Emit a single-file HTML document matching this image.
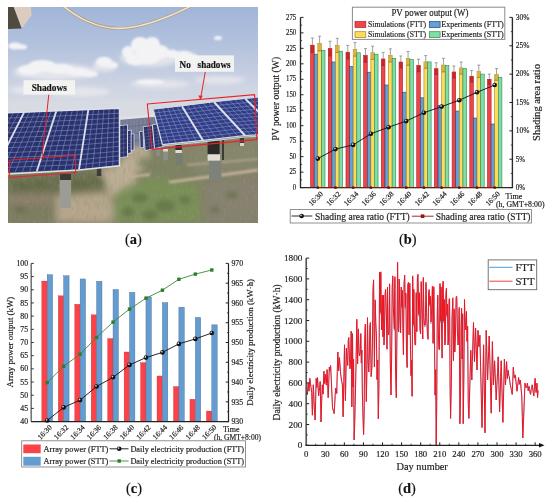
<!DOCTYPE html>
<html><head><meta charset="utf-8"><style>
html,body{margin:0;padding:0;background:#fff;}
body{width:550px;height:501px;overflow:hidden;}
svg{display:block;font-family:"Liberation Serif","Times New Roman",serif;}
text{stroke:#1e1e1e;stroke-width:0.18px;}
</style></head><body>
<svg width="550" height="501" viewBox="0 0 550 501">
<rect width="550" height="501" fill="#fff"/>
<defs><clipPath id="pc"><rect x="8" y="7" width="250" height="216"/></clipPath><linearGradient id="sky" x1="0" y1="7" x2="0" y2="130" gradientUnits="userSpaceOnUse"><stop offset="0" stop-color="#a1b5d9"/><stop offset="0.3" stop-color="#b2c2dd"/><stop offset="0.5" stop-color="#c2cce0"/><stop offset="0.68" stop-color="#d0d6e3"/><stop offset="0.85" stop-color="#d4d7e0"/><stop offset="1" stop-color="#d6d7dc"/></linearGradient><linearGradient id="gnd" x1="0" y1="140" x2="0" y2="223" gradientUnits="userSpaceOnUse"><stop offset="0" stop-color="#8f8e72"/><stop offset="0.5" stop-color="#85855f"/><stop offset="1" stop-color="#7d7a5c"/></linearGradient><filter id="bl2" x="-30%" y="-30%" width="160%" height="160%"><feGaussianBlur stdDeviation="2.2"/></filter><filter id="bl4" x="-30%" y="-30%" width="160%" height="160%"><feGaussianBlur stdDeviation="3.5"/></filter><filter id="bl1" x="-30%" y="-30%" width="160%" height="160%"><feGaussianBlur stdDeviation="1.2"/></filter><filter id="bl05"><feGaussianBlur stdDeviation="0.5"/></filter><filter id="grass" x="0" y="0" width="100%" height="100%"><feTurbulence type="fractalNoise" baseFrequency="0.35 0.12" numOctaves="2" seed="4"/><feColorMatrix type="matrix" values="0 0 0 0 0.25  0 0 0 0 0.28  0 0 0 0 0.15  0 0 0 1.6 -0.75"/></filter><filter id="grass2" x="0" y="0" width="100%" height="100%"><feTurbulence type="fractalNoise" baseFrequency="0.5 0.2" numOctaves="2" seed="9"/><feColorMatrix type="matrix" values="0 0 0 0 0.85  0 0 0 0 0.82  0 0 0 0 0.70  0 0 0 1.4 -0.8"/></filter><clipPath id="gclip"><polygon points="8,172 118,158 150,148 258,136 258,223 8,223"/></clipPath></defs>
<g clip-path="url(#pc)">
<rect x="8" y="7" width="250" height="216" fill="url(#sky)"/>
<g filter="url(#bl2)" fill="#e9e8ee" opacity="0.85">
<ellipse cx="55" cy="72" rx="42" ry="8"/>
<ellipse cx="150" cy="58" rx="30" ry="9"/>
<ellipse cx="175" cy="57" rx="22" ry="5"/>
<ellipse cx="105" cy="66" rx="12" ry="6"/>
<ellipse cx="160" cy="84" rx="30" ry="4"/>
<ellipse cx="80" cy="92" rx="30" ry="5"/>
<ellipse cx="220" cy="80" rx="25" ry="4"/>
<ellipse cx="30" cy="90" rx="20" ry="4"/>
</g>
<g filter="url(#bl1)" fill="#f3f3f6">
<ellipse cx="15" cy="46" rx="7" ry="3.5"/>
<ellipse cx="22" cy="47" rx="5" ry="2.5"/>
<ellipse cx="42" cy="66" rx="14" ry="6"/>
<ellipse cx="30" cy="70" rx="12" ry="5"/>
<ellipse cx="60" cy="69" rx="14" ry="5"/>
<ellipse cx="78" cy="72" rx="12" ry="4"/>
<ellipse cx="90" cy="74" rx="8" ry="3"/>
<ellipse cx="104" cy="62" rx="8" ry="5"/>
<ellipse cx="112" cy="65" rx="6" ry="3"/>
<ellipse cx="128" cy="52" rx="6" ry="6"/>
<ellipse cx="140" cy="45" rx="9" ry="8"/>
<ellipse cx="152" cy="44" rx="8" ry="7"/>
<ellipse cx="160" cy="52" rx="9" ry="7"/>
<ellipse cx="147" cy="57" rx="14" ry="7"/>
<ellipse cx="136" cy="60" rx="10" ry="5"/>
<ellipse cx="172" cy="54" rx="7" ry="4"/>
<ellipse cx="184" cy="55" rx="9" ry="4"/>
<ellipse cx="193" cy="57" rx="5" ry="2.5"/>
<ellipse cx="218" cy="38" rx="4" ry="2"/>
<ellipse cx="150" cy="82" rx="14" ry="2.5"/>
</g>
<rect x="8" y="100" width="250" height="30" fill="#dcdfe4" opacity="0.5" filter="url(#bl2)"/>
<polygon points="8,168 118,156 150,146 258,133 258,223 8,223" fill="#827f66"/>
<polygon points="118,117.5 165,113 165,117 118,121" fill="#e2e2e4" filter="url(#bl05)"/>
<polygon points="118,120 165,116 165,146 140,150 118,152" fill="#737a94" filter="url(#bl05)"/>
<path d="M121 121V150M124 120.5V149M127 120V149M131 120V148M134 119.5V148M137 119.5V148M141 119V147M145 118.5V147M149 118V146" stroke="#9aa0b4" stroke-width="0.6" opacity="0.7"/>
<path d="M118 128L153 124M118 136L153 131M118 143L153 138" stroke="#5e6482" stroke-width="0.8" opacity="0.7"/>
<polygon points="127,148 140,146 150,150 152,170 120,172" fill="#b4a88e" filter="url(#bl2)"/>
<g filter="url(#bl4)">
<polygon points="8,176 100,170 118,168 118,194 60,196 8,194" fill="#6c6e50"/>
<polygon points="8,194 60,194 60,204 8,205" fill="#8e806c"/>
<polygon points="8,205 58,203 58,223 8,223" fill="#7c7c60"/>
<polygon points="56,196 108,192 120,223 56,223" fill="#b6a68c"/>
<polygon points="100,170 125,160 140,158 132,196 110,196" fill="#bcae94"/>
<polygon points="116,192 150,176 198,184 202,223 112,223" fill="#7a8f58"/>
<polygon points="135,160 200,150 205,178 150,178" fill="#7e8264"/>
<polygon points="205,184 258,176 258,223 205,223" fill="#878170"/>
<polygon points="180,150 258,138 258,168 200,176" fill="#85866c"/>
</g>
<g clip-path="url(#gclip)"><rect x="8" y="140" width="250" height="83" filter="url(#grass)" opacity="0.55"/><rect x="8" y="140" width="250" height="83" filter="url(#grass2)" opacity="0.25"/></g>
<g filter="url(#bl2)" fill="#56653e" opacity="0.5">
<ellipse cx="22" cy="186" rx="7" ry="3"/>
<ellipse cx="40" cy="184" rx="6" ry="3"/>
<ellipse cx="80" cy="184" rx="9" ry="3"/>
<ellipse cx="98" cy="182" rx="5" ry="2.5"/>
<ellipse cx="140" cy="198" rx="8" ry="5"/>
<ellipse cx="165" cy="206" rx="10" ry="6"/>
<ellipse cx="150" cy="215" rx="8" ry="5"/>
<ellipse cx="185" cy="200" rx="6" ry="4"/>
<ellipse cx="128" cy="212" rx="6" ry="5"/>
<ellipse cx="232" cy="195" rx="6" ry="3"/>
<ellipse cx="215" cy="210" rx="5" ry="3"/>
<ellipse cx="20" cy="210" rx="6" ry="3"/>
</g>
<polygon points="168,181 258,168.5 258,171.5 170,183.5" fill="#c2b298" filter="url(#bl1)"/>
<polygon points="185,164 258,158 258,160 188,166" fill="#aca088" filter="url(#bl1)"/>
<polygon points="128,176 150,173 150,176 130,178" fill="#c2b094" filter="url(#bl1)"/>
<rect x="59.6" y="176" width="11.5" height="32" fill="#9c9c94" filter="url(#bl05)"/>
<rect x="60" y="174" width="11" height="6" fill="#3a3a36"/>
<rect x="96.8" y="168" width="4.5" height="8" fill="#3c3c38"/>
<polygon points="119.2,125.2 127.8,124.4 127.8,157.1 119.2,158.1" fill="#d8dae2"/>
<polygon points="120,126 127,125.2 127,156.3 120,157.3" fill="#2a336c"/>
<path d="M123.5 125.6L123.5 156.8M120 130.47L127 129.64M120 134.94L127 134.09M120 139.41L127 138.53M120 143.89L127 142.97M120 148.36L127 147.41M120 152.83L127 151.86" stroke="#8a92b4" stroke-width="0.45" opacity="0.7" fill="none"/>
<polygon points="127.2,130.2 131.6,129.8 131.6,153.3 127.2,153.8" fill="#d8dae2"/>
<polygon points="128,131 130.8,130.6 130.8,152.5 128,153" fill="#2a336c"/>
<path d="M128 134.14L130.8 133.73M128 137.29L130.8 136.86M128 140.43L130.8 139.99M128 143.57L130.8 143.11M128 146.71L130.8 146.24M128 149.86L130.8 149.37" stroke="#8a92b4" stroke-width="0.45" opacity="0.7" fill="none"/>
<polygon points="130.8,133.7 134.4,133.5 134.4,150.3 130.8,150.8" fill="#d8dae2"/>
<polygon points="131.6,134.5 133.6,134.3 133.6,149.5 131.6,150" fill="#2a336c"/>
<path d="M131.6 136.71L133.6 136.47M131.6 138.93L133.6 138.64M131.6 141.14L133.6 140.81M131.6 143.36L133.6 142.99M131.6 145.57L133.6 145.16M131.6 147.79L133.6 147.33" stroke="#8a92b4" stroke-width="0.45" opacity="0.7" fill="none"/>
<polygon points="139.2,131.2 143.4,130.7 144,147.8 139.8,148.3" fill="#d8dae2"/>
<polygon points="140,132 142.6,131.5 143.2,147 140.6,147.5" fill="#2a336c"/>
<path d="M140.09 134.21L142.69 133.71M140.17 136.43L142.77 135.93M140.26 138.64L142.86 138.14M140.34 140.86L142.94 140.36M140.43 143.07L143.03 142.57M140.51 145.29L143.11 144.79" stroke="#8a92b4" stroke-width="0.45" opacity="0.7" fill="none"/>
<polygon points="142.8,126.2 152.8,125.2 154.8,149.3 144.8,150.8" fill="#d8dae2"/>
<polygon points="143.6,127 152,126 154,148.5 145.6,150" fill="#2a336c"/>
<path d="M147.8 126.5L149.8 149.25M143.89 130.29L152.29 129.21M144.17 133.57L152.57 132.43M144.46 136.86L152.86 135.64M144.74 140.14L153.14 138.86M145.03 143.43L153.43 142.07M145.31 146.71L153.71 145.29" stroke="#8a92b4" stroke-width="0.45" opacity="0.7" fill="none"/>
<polygon points="152.2,124.2 161.8,123.2 163.8,146.8 154.2,148.8" fill="#d8dae2"/>
<polygon points="153,125 161,124 163,146 155,148" fill="#2a336c"/>
<path d="M157 124.5L159 147M153.29 128.29L161.29 127.14M153.57 131.57L161.57 130.29M153.86 134.86L161.86 133.43M154.14 138.14L162.14 136.57M154.43 141.43L162.43 139.71M154.71 144.71L162.71 142.86" stroke="#8a92b4" stroke-width="0.45" opacity="0.7" fill="none"/>
<rect x="156" y="149" width="4.4" height="7" fill="#888c84"/>
<rect x="163.2" y="148" width="4.7" height="12" fill="#8c8e88"/>
<rect x="163.2" y="149" width="4.7" height="2.5" fill="#e2ded2"/>
<rect x="175.4" y="145" width="6.4" height="5" fill="#2e2e2c"/>
<rect x="175.4" y="150" width="6.4" height="3" fill="#e2ddd0"/>
<rect x="175.8" y="153" width="6" height="12" fill="#767c74"/>
<rect x="207.6" y="141" width="12" height="13.5" fill="#2a2a28"/>
<rect x="207.6" y="154.3" width="12.5" height="6.5" fill="#e2ded2"/>
<rect x="209" y="160.8" width="12.4" height="19.5" fill="#7d837b"/>
<rect x="222" y="140" width="2" height="20" fill="#3a3a38"/>
<rect x="239.8" y="137" width="4.2" height="9" fill="#3a3a38"/>
<rect x="240" y="143" width="4" height="3" fill="#d8d4c8"/>
<polygon points="-8,113.7 24.1,112.4 -6.5,173 -48,176.5" fill="#283270"/>
<path d="M-2.65 113.48L-41.08 175.92M2.7 113.27L-34.17 175.33M8.05 113.05L-27.25 174.75M13.4 112.83L-20.33 174.17M18.75 112.62L-13.42 173.58M-11.33 118.93L21.55 117.45M-14.67 124.17L19 122.5M-18 129.4L16.45 127.55M-21.33 134.63L13.9 132.6M-24.67 139.87L11.35 137.65M-28 145.1L8.8 142.7M-31.33 150.33L6.25 147.75M-34.67 155.57L3.7 152.8M-38 160.8L1.15 157.85M-41.33 166.03L-1.4 162.9M-44.67 171.27L-3.95 167.95" stroke="#9aa0c0" stroke-width="0.6" opacity="0.8" fill="none"/>
<polygon points="24.1,112.4 56.3,111.1 36.8,171.2 -6.5,173" fill="#283270"/>
<path d="M29.47 112.18L0.72 172.7M34.83 111.97L7.93 172.4M40.2 111.75L15.15 172.1M45.57 111.53L22.37 171.8M50.93 111.32L29.58 171.5M21.55 117.45L54.67 116.11M19 122.5L53.05 121.12M16.45 127.55L51.42 126.12M13.9 132.6L49.8 131.13M11.35 137.65L48.17 136.14M8.8 142.7L46.55 141.15M6.25 147.75L44.92 146.16M3.7 152.8L43.3 151.17M1.15 157.85L41.67 156.17M-1.4 162.9L40.05 161.18M-3.95 167.95L38.42 166.19" stroke="#9aa0c0" stroke-width="0.6" opacity="0.8" fill="none"/>
<polygon points="56.3,111.1 88.3,109.8 79,169.5 36.8,171.2" fill="#283270"/>
<path d="M61.63 110.88L43.83 170.92M66.97 110.67L50.87 170.63M72.3 110.45L57.9 170.35M77.63 110.23L64.93 170.07M82.97 110.02L71.97 169.78M54.67 116.11L87.52 114.77M53.05 121.12L86.75 119.75M51.42 126.12L85.97 124.72M49.8 131.13L85.2 129.7M48.17 136.14L84.42 134.68M46.55 141.15L83.65 139.65M44.92 146.16L82.88 144.62M43.3 151.17L82.1 149.6M41.67 156.17L81.33 154.57M40.05 161.18L80.55 159.55M38.42 166.19L79.78 164.53" stroke="#9aa0c0" stroke-width="0.6" opacity="0.8" fill="none"/>
<polygon points="88.3,109.8 119.5,108.5 119.5,165.3 79,169.5" fill="#283270"/>
<path d="M93.5 109.58L85.75 168.8M98.7 109.37L92.5 168.1M103.9 109.15L99.25 167.4M109.1 108.93L106 166.7M114.3 108.72L112.75 166M87.52 114.77L119.5 113.23M86.75 119.75L119.5 117.97M85.97 124.72L119.5 122.7M85.2 129.7L119.5 127.43M84.42 134.68L119.5 132.17M83.65 139.65L119.5 136.9M82.88 144.62L119.5 141.63M82.1 149.6L119.5 146.37M81.33 154.57L119.5 151.1M80.55 159.55L119.5 155.83M79.78 164.53L119.5 160.57" stroke="#9aa0c0" stroke-width="0.6" opacity="0.8" fill="none"/>
<line x1="24.1" y1="112.4" x2="-6.5" y2="173" stroke="#dcdfe8" stroke-width="1.8"/>
<line x1="56.3" y1="111.1" x2="36.8" y2="171.2" stroke="#dcdfe8" stroke-width="1.8"/>
<line x1="88.3" y1="109.8" x2="79" y2="169.5" stroke="#dcdfe8" stroke-width="1.8"/>
<polyline points="-48,177 8,174 79,170 119.5,165.8 119.5,108.3 -8,113.4" fill="none" stroke="#dfe1e8" stroke-width="1.5"/>
<polygon points="153.3,109.4 182,106.2 203,140.4 162.4,144.5" fill="#2f3d88"/>
<path d="M158.08 108.87L169.17 143.82M162.87 108.33L175.93 143.13M167.65 107.8L182.7 142.45M172.43 107.27L189.47 141.77M177.22 106.73L196.23 141.08M154.21 112.91L184.1 109.62M155.12 116.42L186.2 113.04M156.03 119.93L188.3 116.46M156.94 123.44L190.4 119.88M157.85 126.95L192.5 123.3M158.76 130.46L194.6 126.72M159.67 133.97L196.7 130.14M160.58 137.48L198.8 133.56M161.49 140.99L200.9 136.98" stroke="#9aa2c8" stroke-width="0.6" opacity="0.8" fill="none"/>
<polygon points="182,106.2 214,102 245,135.5 203,140.4" fill="#2f3d88"/>
<path d="M187.33 105.5L210 139.58M192.67 104.8L217 138.77M198 104.1L224 137.95M203.33 103.4L231 137.13M208.67 102.7L238 136.32M184.1 109.62L217.1 105.35M186.2 113.04L220.2 108.7M188.3 116.46L223.3 112.05M190.4 119.88L226.4 115.4M192.5 123.3L229.5 118.75M194.6 126.72L232.6 122.1M196.7 130.14L235.7 125.45M198.8 133.56L238.8 128.8M200.9 136.98L241.9 132.15" stroke="#9aa2c8" stroke-width="0.6" opacity="0.8" fill="none"/>
<polygon points="214,102 245.5,99 280,133.2 245,135.5" fill="#2f3d88"/>
<path d="M219.25 101.5L250.83 135.12M224.5 101L256.67 134.73M229.75 100.5L262.5 134.35M235 100L268.33 133.97M240.25 99.5L274.17 133.58M217.1 105.35L248.95 102.42M220.2 108.7L252.4 105.84M223.3 112.05L255.85 109.26M226.4 115.4L259.3 112.68M229.5 118.75L262.75 116.1M232.6 122.1L266.2 119.52M235.7 125.45L269.65 122.94M238.8 128.8L273.1 126.36M241.9 132.15L276.55 129.78" stroke="#9aa2c8" stroke-width="0.6" opacity="0.8" fill="none"/>
<polygon points="245.5,99 276,96 310,131 280,133.2" fill="#2f3d88"/>
<path d="M250.58 98.5L285 132.83M255.67 98L290 132.47M260.75 97.5L295 132.1M265.83 97L300 131.73M270.92 96.5L305 131.37M248.95 102.42L279.4 99.5M252.4 105.84L282.8 103M255.85 109.26L286.2 106.5M259.3 112.68L289.6 110M262.75 116.1L293 113.5M266.2 119.52L296.4 117M269.65 122.94L299.8 120.5M273.1 126.36L303.2 124M276.55 129.78L306.6 127.5" stroke="#9aa2c8" stroke-width="0.6" opacity="0.8" fill="none"/>
<line x1="182" y1="106.2" x2="203" y2="140.4" stroke="#dcdfe8" stroke-width="2"/>
<line x1="214" y1="102" x2="245" y2="135.5" stroke="#dcdfe8" stroke-width="2"/>
<line x1="245.5" y1="99" x2="280" y2="133.2" stroke="#dcdfe8" stroke-width="2"/>
<polyline points="153.3,109.6 162.4,144.5 203,140.4 245,135.5 280,133.2" fill="none" stroke="#d8dbe4" stroke-width="1.2"/>
<polygon points="150.6,106.2 258,94.2 258,97 153.3,109.4" fill="#d6d8e0"/>
<polyline points="162.4,146 203,141.9 245,137 280,134.7" fill="none" stroke="#c9ccd4" stroke-width="1.2"/>
<polygon points="13.6,7 31,7 31.5,15.5 21.7,28.6" fill="#dccbbe"/>
<polygon points="8,7 13.6,7 21.7,28.6 8,29" fill="#4f4b3f"/>
<path d="M63 5.5 C76 17 96 28 118 28.4 C138 28.6 165 19 191 6" fill="none" stroke="#b09878" stroke-width="2.8"/>
<path d="M63 5.5 C76 17 96 28 118 28.4 C138 28.6 165 19 191 6" fill="none" stroke="#efe3cf" stroke-width="1.6"/>
<polygon points="9.4,160.2 75.6,155.3 75.6,172.7 9.4,177.4" fill="none" stroke="#e8232a" stroke-width="1"/>
<line x1="48.8" y1="94.5" x2="42" y2="157" stroke="#e8232a" stroke-width="1"/>
<polygon points="147.3,104 254.6,94.6 256.8,139.6 151.9,149.4" fill="none" stroke="#e8232a" stroke-width="1.1"/>
<line x1="205.3" y1="71.8" x2="200.7" y2="98" stroke="#e8232a" stroke-width="1"/>
<path d="M198.3 95.5 L200.6 99.8 L202.6 95.8 Z" fill="#e8232a"/>
<rect x="23.5" y="80.2" width="51.5" height="14.3" fill="#f4f4f2" opacity="0.93"/>
<text x="49.2" y="90.6" text-anchor="middle" font-size="9.3" font-weight="bold" fill="#111">Shadows</text>
<rect x="175" y="55.4" width="59" height="16.4" fill="#f4f4f2" opacity="0.93"/>
<text x="179.6" y="67.7" font-size="9.6" font-weight="bold" fill="#111" textLength="51" lengthAdjust="spacingAndGlyphs" xml:space="preserve">No   shadows</text>
</g>
<text x="125" y="243.8" font-size="14.4" fill="#111">(<tspan font-weight="bold">a</tspan>)</text>
<line x1="312.4" y1="38" x2="312.4" y2="45.2" stroke="#7a7a7a" stroke-width="0.7"/>
<line x1="310.9" y1="38" x2="313.9" y2="38" stroke="#7a7a7a" stroke-width="0.7"/>
<line x1="319.6" y1="36.2" x2="319.6" y2="43.6" stroke="#7a7a7a" stroke-width="0.7"/>
<line x1="318.1" y1="36.2" x2="321.1" y2="36.2" stroke="#7a7a7a" stroke-width="0.7"/>
<rect x="310.6" y="45.2" width="3.6" height="142.4" fill="#f0444a" stroke="#a82020" stroke-width="0.6"/>
<rect x="310.85" y="45.45" width="3.1" height="7.2" fill="#c8262c"/>
<line x1="310.6" y1="52.4" x2="314.2" y2="52.4" stroke="#8a2020" stroke-width="0.4"/>
<rect x="314.2" y="54.2" width="3.6" height="133.4" fill="#64a0d8" stroke="#24456a" stroke-width="0.6"/>
<rect x="317.8" y="43.6" width="3.6" height="144" fill="#fedc5a" stroke="#9c8228" stroke-width="0.6"/>
<rect x="318.05" y="43.85" width="3.1" height="7.4" fill="#dab23c"/>
<line x1="317.8" y1="51" x2="321.4" y2="51" stroke="#8a2020" stroke-width="0.4"/>
<rect x="321.4" y="50.4" width="3.6" height="137.2" fill="#7edea6" stroke="#358550" stroke-width="0.6"/>
<line x1="330.09" y1="41.2" x2="330.09" y2="48.6" stroke="#7a7a7a" stroke-width="0.7"/>
<line x1="328.59" y1="41.2" x2="331.59" y2="41.2" stroke="#7a7a7a" stroke-width="0.7"/>
<line x1="337.29" y1="38.4" x2="337.29" y2="45.4" stroke="#7a7a7a" stroke-width="0.7"/>
<line x1="335.79" y1="38.4" x2="338.79" y2="38.4" stroke="#7a7a7a" stroke-width="0.7"/>
<rect x="328.29" y="48.6" width="3.6" height="139" fill="#f0444a" stroke="#a82020" stroke-width="0.6"/>
<rect x="328.54" y="48.85" width="3.1" height="7.4" fill="#c8262c"/>
<line x1="328.29" y1="56" x2="331.89" y2="56" stroke="#8a2020" stroke-width="0.4"/>
<rect x="331.89" y="62" width="3.6" height="125.6" fill="#64a0d8" stroke="#24456a" stroke-width="0.6"/>
<rect x="335.49" y="45.4" width="3.6" height="142.2" fill="#fedc5a" stroke="#9c8228" stroke-width="0.6"/>
<rect x="335.74" y="45.65" width="3.1" height="7" fill="#dab23c"/>
<line x1="335.49" y1="52.4" x2="339.09" y2="52.4" stroke="#8a2020" stroke-width="0.4"/>
<rect x="339.09" y="51.2" width="3.6" height="136.4" fill="#7edea6" stroke="#358550" stroke-width="0.6"/>
<line x1="347.78" y1="45.4" x2="347.78" y2="52.2" stroke="#7a7a7a" stroke-width="0.7"/>
<line x1="346.28" y1="45.4" x2="349.28" y2="45.4" stroke="#7a7a7a" stroke-width="0.7"/>
<line x1="354.98" y1="42.6" x2="354.98" y2="49.4" stroke="#7a7a7a" stroke-width="0.7"/>
<line x1="353.48" y1="42.6" x2="356.48" y2="42.6" stroke="#7a7a7a" stroke-width="0.7"/>
<rect x="345.98" y="52.2" width="3.6" height="135.4" fill="#f0444a" stroke="#a82020" stroke-width="0.6"/>
<rect x="346.23" y="52.45" width="3.1" height="6.8" fill="#c8262c"/>
<line x1="345.98" y1="59" x2="349.58" y2="59" stroke="#8a2020" stroke-width="0.4"/>
<rect x="349.58" y="66.6" width="3.6" height="121" fill="#64a0d8" stroke="#24456a" stroke-width="0.6"/>
<rect x="353.18" y="49.4" width="3.6" height="138.2" fill="#fedc5a" stroke="#9c8228" stroke-width="0.6"/>
<rect x="353.43" y="49.65" width="3.1" height="6.8" fill="#dab23c"/>
<line x1="353.18" y1="56.2" x2="356.78" y2="56.2" stroke="#8a2020" stroke-width="0.4"/>
<rect x="356.78" y="52.8" width="3.6" height="134.8" fill="#7edea6" stroke="#358550" stroke-width="0.6"/>
<line x1="365.47" y1="48.6" x2="365.47" y2="55.4" stroke="#7a7a7a" stroke-width="0.7"/>
<line x1="363.97" y1="48.6" x2="366.97" y2="48.6" stroke="#7a7a7a" stroke-width="0.7"/>
<line x1="372.67" y1="46.2" x2="372.67" y2="52.8" stroke="#7a7a7a" stroke-width="0.7"/>
<line x1="371.17" y1="46.2" x2="374.17" y2="46.2" stroke="#7a7a7a" stroke-width="0.7"/>
<rect x="363.67" y="55.4" width="3.6" height="132.2" fill="#f0444a" stroke="#a82020" stroke-width="0.6"/>
<rect x="363.92" y="55.65" width="3.1" height="6.8" fill="#c8262c"/>
<line x1="363.67" y1="62.2" x2="367.27" y2="62.2" stroke="#8a2020" stroke-width="0.4"/>
<rect x="367.27" y="72.2" width="3.6" height="115.4" fill="#64a0d8" stroke="#24456a" stroke-width="0.6"/>
<rect x="370.87" y="52.8" width="3.6" height="134.8" fill="#fedc5a" stroke="#9c8228" stroke-width="0.6"/>
<rect x="371.12" y="53.05" width="3.1" height="6.6" fill="#dab23c"/>
<line x1="370.87" y1="59.4" x2="374.47" y2="59.4" stroke="#8a2020" stroke-width="0.4"/>
<rect x="374.47" y="54.2" width="3.6" height="133.4" fill="#7edea6" stroke="#358550" stroke-width="0.6"/>
<line x1="383.16" y1="52.4" x2="383.16" y2="59" stroke="#7a7a7a" stroke-width="0.7"/>
<line x1="381.66" y1="52.4" x2="384.66" y2="52.4" stroke="#7a7a7a" stroke-width="0.7"/>
<line x1="390.36" y1="48.8" x2="390.36" y2="55.4" stroke="#7a7a7a" stroke-width="0.7"/>
<line x1="388.86" y1="48.8" x2="391.86" y2="48.8" stroke="#7a7a7a" stroke-width="0.7"/>
<rect x="381.36" y="59" width="3.6" height="128.6" fill="#f0444a" stroke="#a82020" stroke-width="0.6"/>
<rect x="381.61" y="59.25" width="3.1" height="6.6" fill="#c8262c"/>
<line x1="381.36" y1="65.6" x2="384.96" y2="65.6" stroke="#8a2020" stroke-width="0.4"/>
<rect x="384.96" y="85" width="3.6" height="102.6" fill="#64a0d8" stroke="#24456a" stroke-width="0.6"/>
<rect x="388.56" y="55.4" width="3.6" height="132.2" fill="#fedc5a" stroke="#9c8228" stroke-width="0.6"/>
<rect x="388.81" y="55.65" width="3.1" height="6.6" fill="#dab23c"/>
<line x1="388.56" y1="62" x2="392.16" y2="62" stroke="#8a2020" stroke-width="0.4"/>
<rect x="392.16" y="58.4" width="3.6" height="129.2" fill="#7edea6" stroke="#358550" stroke-width="0.6"/>
<line x1="400.85" y1="56" x2="400.85" y2="62" stroke="#7a7a7a" stroke-width="0.7"/>
<line x1="399.35" y1="56" x2="402.35" y2="56" stroke="#7a7a7a" stroke-width="0.7"/>
<line x1="408.05" y1="51.5" x2="408.05" y2="58.4" stroke="#7a7a7a" stroke-width="0.7"/>
<line x1="406.55" y1="51.5" x2="409.55" y2="51.5" stroke="#7a7a7a" stroke-width="0.7"/>
<rect x="399.05" y="62" width="3.6" height="125.6" fill="#f0444a" stroke="#a82020" stroke-width="0.6"/>
<rect x="399.3" y="62.25" width="3.1" height="6" fill="#c8262c"/>
<line x1="399.05" y1="68" x2="402.65" y2="68" stroke="#8a2020" stroke-width="0.4"/>
<rect x="402.65" y="92.2" width="3.6" height="95.4" fill="#64a0d8" stroke="#24456a" stroke-width="0.6"/>
<rect x="406.25" y="58.4" width="3.6" height="129.2" fill="#fedc5a" stroke="#9c8228" stroke-width="0.6"/>
<rect x="406.5" y="58.65" width="3.1" height="6.9" fill="#dab23c"/>
<line x1="406.25" y1="65.3" x2="409.85" y2="65.3" stroke="#8a2020" stroke-width="0.4"/>
<rect x="409.85" y="59.6" width="3.6" height="128" fill="#7edea6" stroke="#358550" stroke-width="0.6"/>
<line x1="418.54" y1="59.2" x2="418.54" y2="65.5" stroke="#7a7a7a" stroke-width="0.7"/>
<line x1="417.04" y1="59.2" x2="420.04" y2="59.2" stroke="#7a7a7a" stroke-width="0.7"/>
<line x1="425.74" y1="55.6" x2="425.74" y2="61.9" stroke="#7a7a7a" stroke-width="0.7"/>
<line x1="424.24" y1="55.6" x2="427.24" y2="55.6" stroke="#7a7a7a" stroke-width="0.7"/>
<rect x="416.74" y="65.5" width="3.6" height="122.1" fill="#f0444a" stroke="#a82020" stroke-width="0.6"/>
<rect x="416.99" y="65.75" width="3.1" height="6.3" fill="#c8262c"/>
<line x1="416.74" y1="71.8" x2="420.34" y2="71.8" stroke="#8a2020" stroke-width="0.4"/>
<rect x="420.34" y="97.8" width="3.6" height="89.8" fill="#64a0d8" stroke="#24456a" stroke-width="0.6"/>
<rect x="423.94" y="61.9" width="3.6" height="125.7" fill="#fedc5a" stroke="#9c8228" stroke-width="0.6"/>
<rect x="424.19" y="62.15" width="3.1" height="6.3" fill="#dab23c"/>
<line x1="423.94" y1="68.2" x2="427.54" y2="68.2" stroke="#8a2020" stroke-width="0.4"/>
<rect x="427.54" y="61.9" width="3.6" height="125.7" fill="#7edea6" stroke="#358550" stroke-width="0.6"/>
<line x1="436.23" y1="62.8" x2="436.23" y2="68.7" stroke="#7a7a7a" stroke-width="0.7"/>
<line x1="434.73" y1="62.8" x2="437.73" y2="62.8" stroke="#7a7a7a" stroke-width="0.7"/>
<line x1="443.43" y1="58.3" x2="443.43" y2="65.1" stroke="#7a7a7a" stroke-width="0.7"/>
<line x1="441.93" y1="58.3" x2="444.93" y2="58.3" stroke="#7a7a7a" stroke-width="0.7"/>
<rect x="434.43" y="68.7" width="3.6" height="118.9" fill="#f0444a" stroke="#a82020" stroke-width="0.6"/>
<rect x="434.68" y="68.95" width="3.1" height="5.9" fill="#c8262c"/>
<line x1="434.43" y1="74.6" x2="438.03" y2="74.6" stroke="#8a2020" stroke-width="0.4"/>
<rect x="438.03" y="105.5" width="3.6" height="82.1" fill="#64a0d8" stroke="#24456a" stroke-width="0.6"/>
<rect x="441.63" y="65.1" width="3.6" height="122.5" fill="#fedc5a" stroke="#9c8228" stroke-width="0.6"/>
<rect x="441.88" y="65.35" width="3.1" height="6.8" fill="#dab23c"/>
<line x1="441.63" y1="71.9" x2="445.23" y2="71.9" stroke="#8a2020" stroke-width="0.4"/>
<rect x="445.23" y="65.5" width="3.6" height="122.1" fill="#7edea6" stroke="#358550" stroke-width="0.6"/>
<line x1="453.92" y1="66" x2="453.92" y2="72" stroke="#7a7a7a" stroke-width="0.7"/>
<line x1="452.42" y1="66" x2="455.42" y2="66" stroke="#7a7a7a" stroke-width="0.7"/>
<line x1="461.12" y1="62" x2="461.12" y2="68" stroke="#7a7a7a" stroke-width="0.7"/>
<line x1="459.62" y1="62" x2="462.62" y2="62" stroke="#7a7a7a" stroke-width="0.7"/>
<rect x="452.12" y="72" width="3.6" height="115.6" fill="#f0444a" stroke="#a82020" stroke-width="0.6"/>
<rect x="452.37" y="72.25" width="3.1" height="6" fill="#c8262c"/>
<line x1="452.12" y1="78" x2="455.72" y2="78" stroke="#8a2020" stroke-width="0.4"/>
<rect x="455.72" y="111" width="3.6" height="76.6" fill="#64a0d8" stroke="#24456a" stroke-width="0.6"/>
<rect x="459.32" y="68" width="3.6" height="119.6" fill="#fedc5a" stroke="#9c8228" stroke-width="0.6"/>
<rect x="459.57" y="68.25" width="3.1" height="6" fill="#dab23c"/>
<line x1="459.32" y1="74" x2="462.92" y2="74" stroke="#8a2020" stroke-width="0.4"/>
<rect x="462.92" y="68.6" width="3.6" height="119" fill="#7edea6" stroke="#358550" stroke-width="0.6"/>
<line x1="471.61" y1="70.5" x2="471.61" y2="76.3" stroke="#7a7a7a" stroke-width="0.7"/>
<line x1="470.11" y1="70.5" x2="473.11" y2="70.5" stroke="#7a7a7a" stroke-width="0.7"/>
<line x1="478.81" y1="65.1" x2="478.81" y2="71.3" stroke="#7a7a7a" stroke-width="0.7"/>
<line x1="477.31" y1="65.1" x2="480.31" y2="65.1" stroke="#7a7a7a" stroke-width="0.7"/>
<rect x="469.81" y="76.3" width="3.6" height="111.3" fill="#f0444a" stroke="#a82020" stroke-width="0.6"/>
<rect x="470.06" y="76.55" width="3.1" height="5.8" fill="#c8262c"/>
<line x1="469.81" y1="82.1" x2="473.41" y2="82.1" stroke="#8a2020" stroke-width="0.4"/>
<rect x="473.41" y="118" width="3.6" height="69.6" fill="#64a0d8" stroke="#24456a" stroke-width="0.6"/>
<rect x="477.01" y="71.3" width="3.6" height="116.3" fill="#fedc5a" stroke="#9c8228" stroke-width="0.6"/>
<rect x="477.26" y="71.55" width="3.1" height="6.2" fill="#dab23c"/>
<line x1="477.01" y1="77.5" x2="480.61" y2="77.5" stroke="#8a2020" stroke-width="0.4"/>
<rect x="480.61" y="74.1" width="3.6" height="113.5" fill="#7edea6" stroke="#358550" stroke-width="0.6"/>
<line x1="489.3" y1="74.1" x2="489.3" y2="79.3" stroke="#7a7a7a" stroke-width="0.7"/>
<line x1="487.8" y1="74.1" x2="490.8" y2="74.1" stroke="#7a7a7a" stroke-width="0.7"/>
<line x1="496.5" y1="68.5" x2="496.5" y2="74.4" stroke="#7a7a7a" stroke-width="0.7"/>
<line x1="495" y1="68.5" x2="498" y2="68.5" stroke="#7a7a7a" stroke-width="0.7"/>
<rect x="487.5" y="79.3" width="3.6" height="108.3" fill="#f0444a" stroke="#a82020" stroke-width="0.6"/>
<rect x="487.75" y="79.55" width="3.1" height="5.2" fill="#c8262c"/>
<line x1="487.5" y1="84.5" x2="491.1" y2="84.5" stroke="#8a2020" stroke-width="0.4"/>
<rect x="491.1" y="124" width="3.6" height="63.6" fill="#64a0d8" stroke="#24456a" stroke-width="0.6"/>
<rect x="494.7" y="74.4" width="3.6" height="113.2" fill="#fedc5a" stroke="#9c8228" stroke-width="0.6"/>
<rect x="494.95" y="74.65" width="3.1" height="5.9" fill="#dab23c"/>
<line x1="494.7" y1="80.3" x2="498.3" y2="80.3" stroke="#8a2020" stroke-width="0.4"/>
<rect x="498.3" y="77.4" width="3.6" height="110.2" fill="#7edea6" stroke="#358550" stroke-width="0.6"/>
<path d="M300.5 17.4 V187.6 H512.4 V17.4" fill="none" stroke="#2a2a2a" stroke-width="1.35"/>
<line x1="300.5" y1="187.6" x2="303.5" y2="187.6" stroke="#222" stroke-width="1"/>
<line x1="300.5" y1="179.86" x2="302.1" y2="179.86" stroke="#222" stroke-width="0.8"/>
<text x="296.2" y="189.8" text-anchor="end" font-size="7.6" fill="#222" textLength="3.4" lengthAdjust="spacingAndGlyphs">0</text>
<line x1="300.5" y1="172.13" x2="303.5" y2="172.13" stroke="#222" stroke-width="1"/>
<line x1="300.5" y1="164.39" x2="302.1" y2="164.39" stroke="#222" stroke-width="0.8"/>
<text x="296.2" y="174.33" text-anchor="end" font-size="7.6" fill="#222" textLength="6.8" lengthAdjust="spacingAndGlyphs">25</text>
<line x1="300.5" y1="156.65" x2="303.5" y2="156.65" stroke="#222" stroke-width="1"/>
<line x1="300.5" y1="148.92" x2="302.1" y2="148.92" stroke="#222" stroke-width="0.8"/>
<text x="296.2" y="158.85" text-anchor="end" font-size="7.6" fill="#222" textLength="6.8" lengthAdjust="spacingAndGlyphs">50</text>
<line x1="300.5" y1="141.18" x2="303.5" y2="141.18" stroke="#222" stroke-width="1"/>
<line x1="300.5" y1="133.45" x2="302.1" y2="133.45" stroke="#222" stroke-width="0.8"/>
<text x="296.2" y="143.38" text-anchor="end" font-size="7.6" fill="#222" textLength="6.8" lengthAdjust="spacingAndGlyphs">75</text>
<line x1="300.5" y1="125.71" x2="303.5" y2="125.71" stroke="#222" stroke-width="1"/>
<line x1="300.5" y1="117.97" x2="302.1" y2="117.97" stroke="#222" stroke-width="0.8"/>
<text x="296.2" y="127.91" text-anchor="end" font-size="7.6" fill="#222" textLength="10.2" lengthAdjust="spacingAndGlyphs">100</text>
<line x1="300.5" y1="110.24" x2="303.5" y2="110.24" stroke="#222" stroke-width="1"/>
<line x1="300.5" y1="102.5" x2="302.1" y2="102.5" stroke="#222" stroke-width="0.8"/>
<text x="296.2" y="112.44" text-anchor="end" font-size="7.6" fill="#222" textLength="10.2" lengthAdjust="spacingAndGlyphs">125</text>
<line x1="300.5" y1="94.76" x2="303.5" y2="94.76" stroke="#222" stroke-width="1"/>
<line x1="300.5" y1="87.03" x2="302.1" y2="87.03" stroke="#222" stroke-width="0.8"/>
<text x="296.2" y="96.96" text-anchor="end" font-size="7.6" fill="#222" textLength="10.2" lengthAdjust="spacingAndGlyphs">150</text>
<line x1="300.5" y1="79.29" x2="303.5" y2="79.29" stroke="#222" stroke-width="1"/>
<line x1="300.5" y1="71.55" x2="302.1" y2="71.55" stroke="#222" stroke-width="0.8"/>
<text x="296.2" y="81.49" text-anchor="end" font-size="7.6" fill="#222" textLength="10.2" lengthAdjust="spacingAndGlyphs">175</text>
<line x1="300.5" y1="63.82" x2="303.5" y2="63.82" stroke="#222" stroke-width="1"/>
<line x1="300.5" y1="56.08" x2="302.1" y2="56.08" stroke="#222" stroke-width="0.8"/>
<text x="296.2" y="66.02" text-anchor="end" font-size="7.6" fill="#222" textLength="10.2" lengthAdjust="spacingAndGlyphs">200</text>
<line x1="300.5" y1="48.35" x2="303.5" y2="48.35" stroke="#222" stroke-width="1"/>
<line x1="300.5" y1="40.61" x2="302.1" y2="40.61" stroke="#222" stroke-width="0.8"/>
<text x="296.2" y="50.55" text-anchor="end" font-size="7.6" fill="#222" textLength="10.2" lengthAdjust="spacingAndGlyphs">225</text>
<line x1="300.5" y1="32.87" x2="303.5" y2="32.87" stroke="#222" stroke-width="1"/>
<line x1="300.5" y1="25.14" x2="302.1" y2="25.14" stroke="#222" stroke-width="0.8"/>
<text x="296.2" y="35.07" text-anchor="end" font-size="7.6" fill="#222" textLength="10.2" lengthAdjust="spacingAndGlyphs">250</text>
<line x1="300.5" y1="17.4" x2="303.5" y2="17.4" stroke="#222" stroke-width="1"/>
<text x="296.2" y="19.6" text-anchor="end" font-size="7.6" fill="#222" textLength="10.2" lengthAdjust="spacingAndGlyphs">275</text>
<line x1="512.4" y1="187.6" x2="509.4" y2="187.6" stroke="#222" stroke-width="1"/>
<line x1="512.4" y1="173.42" x2="510.8" y2="173.42" stroke="#222" stroke-width="0.8"/>
<text x="515.8" y="189.9" font-size="7.8" fill="#222" textLength="9.4" lengthAdjust="spacingAndGlyphs">0%</text>
<line x1="512.4" y1="159.23" x2="509.4" y2="159.23" stroke="#222" stroke-width="1"/>
<line x1="512.4" y1="145.05" x2="510.8" y2="145.05" stroke="#222" stroke-width="0.8"/>
<text x="515.8" y="161.53" font-size="7.8" fill="#222" textLength="9.4" lengthAdjust="spacingAndGlyphs">5%</text>
<line x1="512.4" y1="130.87" x2="509.4" y2="130.87" stroke="#222" stroke-width="1"/>
<line x1="512.4" y1="116.68" x2="510.8" y2="116.68" stroke="#222" stroke-width="0.8"/>
<text x="515.8" y="133.17" font-size="7.8" fill="#222" textLength="13.6" lengthAdjust="spacingAndGlyphs">10%</text>
<line x1="512.4" y1="102.5" x2="509.4" y2="102.5" stroke="#222" stroke-width="1"/>
<line x1="512.4" y1="88.32" x2="510.8" y2="88.32" stroke="#222" stroke-width="0.8"/>
<text x="515.8" y="104.8" font-size="7.8" fill="#222" textLength="13.6" lengthAdjust="spacingAndGlyphs">15%</text>
<line x1="512.4" y1="74.13" x2="509.4" y2="74.13" stroke="#222" stroke-width="1"/>
<line x1="512.4" y1="59.95" x2="510.8" y2="59.95" stroke="#222" stroke-width="0.8"/>
<text x="515.8" y="76.43" font-size="7.8" fill="#222" textLength="13.6" lengthAdjust="spacingAndGlyphs">20%</text>
<line x1="512.4" y1="45.77" x2="509.4" y2="45.77" stroke="#222" stroke-width="1"/>
<line x1="512.4" y1="31.58" x2="510.8" y2="31.58" stroke="#222" stroke-width="0.8"/>
<text x="515.8" y="48.07" font-size="7.8" fill="#222" textLength="13.6" lengthAdjust="spacingAndGlyphs">25%</text>
<line x1="512.4" y1="17.4" x2="509.4" y2="17.4" stroke="#222" stroke-width="1"/>
<text x="515.8" y="19.7" font-size="7.8" fill="#222" textLength="13.6" lengthAdjust="spacingAndGlyphs">30%</text>
<polyline points="317.8,158.6 335.49,149.1 353.18,144.9 370.87,133.8 388.56,127.2 406.25,121.1 423.94,112.7 441.63,106.6 459.32,100.2 477.01,92.3 494.7,85" fill="none" stroke="#111" stroke-width="0.9"/>
<circle cx="317.8" cy="158.6" r="2.3" fill="#111"/>
<circle cx="317.2" cy="157.9" r="0.85" fill="#d8d8d8"/>
<circle cx="335.49" cy="149.1" r="2.3" fill="#111"/>
<circle cx="334.89" cy="148.4" r="0.85" fill="#d8d8d8"/>
<circle cx="353.18" cy="144.9" r="2.3" fill="#111"/>
<circle cx="352.58" cy="144.2" r="0.85" fill="#d8d8d8"/>
<circle cx="370.87" cy="133.8" r="2.3" fill="#111"/>
<circle cx="370.27" cy="133.1" r="0.85" fill="#d8d8d8"/>
<circle cx="388.56" cy="127.2" r="2.3" fill="#111"/>
<circle cx="387.96" cy="126.5" r="0.85" fill="#d8d8d8"/>
<circle cx="406.25" cy="121.1" r="2.3" fill="#111"/>
<circle cx="405.65" cy="120.4" r="0.85" fill="#d8d8d8"/>
<circle cx="423.94" cy="112.7" r="2.3" fill="#111"/>
<circle cx="423.34" cy="112" r="0.85" fill="#d8d8d8"/>
<circle cx="441.63" cy="106.6" r="2.3" fill="#111"/>
<circle cx="441.03" cy="105.9" r="0.85" fill="#d8d8d8"/>
<circle cx="459.32" cy="100.2" r="2.3" fill="#111"/>
<circle cx="458.72" cy="99.5" r="0.85" fill="#d8d8d8"/>
<circle cx="477.01" cy="92.3" r="2.3" fill="#111"/>
<circle cx="476.41" cy="91.6" r="0.85" fill="#d8d8d8"/>
<circle cx="494.7" cy="85" r="2.3" fill="#111"/>
<circle cx="494.1" cy="84.3" r="0.85" fill="#d8d8d8"/>
<line x1="317.8" y1="187.6" x2="494.7" y2="187.6" stroke="#8b1a1a" stroke-width="0.9"/>
<rect x="316.6" y="186.4" width="2.4" height="2.4" fill="#6b1010"/>
<rect x="334.29" y="186.4" width="2.4" height="2.4" fill="#6b1010"/>
<rect x="351.98" y="186.4" width="2.4" height="2.4" fill="#6b1010"/>
<rect x="369.67" y="186.4" width="2.4" height="2.4" fill="#6b1010"/>
<rect x="387.36" y="186.4" width="2.4" height="2.4" fill="#6b1010"/>
<rect x="405.05" y="186.4" width="2.4" height="2.4" fill="#6b1010"/>
<rect x="422.74" y="186.4" width="2.4" height="2.4" fill="#6b1010"/>
<rect x="440.43" y="186.4" width="2.4" height="2.4" fill="#6b1010"/>
<rect x="458.12" y="186.4" width="2.4" height="2.4" fill="#6b1010"/>
<rect x="475.81" y="186.4" width="2.4" height="2.4" fill="#6b1010"/>
<rect x="493.5" y="186.4" width="2.4" height="2.4" fill="#6b1010"/>
<text transform="translate(323.4,194.4) rotate(-45)" text-anchor="end" font-size="7.4" fill="#1a1a1a">16:30</text>
<text transform="translate(341.09,194.4) rotate(-45)" text-anchor="end" font-size="7.4" fill="#1a1a1a">16:32</text>
<text transform="translate(358.78,194.4) rotate(-45)" text-anchor="end" font-size="7.4" fill="#1a1a1a">16:34</text>
<text transform="translate(376.47,194.4) rotate(-45)" text-anchor="end" font-size="7.4" fill="#1a1a1a">16:36</text>
<text transform="translate(394.16,194.4) rotate(-45)" text-anchor="end" font-size="7.4" fill="#1a1a1a">16:38</text>
<text transform="translate(411.85,194.4) rotate(-45)" text-anchor="end" font-size="7.4" fill="#1a1a1a">16:40</text>
<text transform="translate(429.54,194.4) rotate(-45)" text-anchor="end" font-size="7.4" fill="#1a1a1a">16:42</text>
<text transform="translate(447.23,194.4) rotate(-45)" text-anchor="end" font-size="7.4" fill="#1a1a1a">16:44</text>
<text transform="translate(464.92,194.4) rotate(-45)" text-anchor="end" font-size="7.4" fill="#1a1a1a">16:46</text>
<text transform="translate(482.61,194.4) rotate(-45)" text-anchor="end" font-size="7.4" fill="#1a1a1a">16:48</text>
<text transform="translate(500.3,194.4) rotate(-45)" text-anchor="end" font-size="7.4" fill="#1a1a1a">16:50</text>
<text x="505.6" y="198.5" font-size="8.1" fill="#222">Time</text>
<text x="496" y="206.7" font-size="7.8" fill="#222" textLength="48.5" lengthAdjust="spacingAndGlyphs">(h, GMT+8:00)</text>
<text transform="translate(278.6,98.75) rotate(-90)" text-anchor="middle" font-size="9.6" fill="#222" textLength="83.7" lengthAdjust="spacingAndGlyphs">PV power output (W)</text>
<text transform="translate(540.4,102.5) rotate(-90)" text-anchor="middle" font-size="10.5" fill="#222" textLength="77" lengthAdjust="spacingAndGlyphs">Shading area ratio</text>
<rect x="352.4" y="7.2" width="152.4" height="32.2" fill="#fff" stroke="#8a8a8a" stroke-width="1"/>
<text x="391.4" y="16.3" font-size="9.6" fill="#222" textLength="77" lengthAdjust="spacingAndGlyphs">PV power output (W)</text>
<rect x="355" y="21.6" width="10.8" height="5.9" fill="#f0444a" stroke="#a82020" stroke-width="0.7"/>
<text x="367.9" y="27.0" font-size="8.8" fill="#222" textLength="58.2" lengthAdjust="spacingAndGlyphs">Simulations (FTT)</text>
<rect x="355" y="31.7" width="10.8" height="5.9" fill="#fedc5a" stroke="#9c8228" stroke-width="0.7"/>
<text x="367.9" y="36.9" font-size="8.8" fill="#222" textLength="58.2" lengthAdjust="spacingAndGlyphs">Simulations (STT)</text>
<rect x="429.3" y="21.6" width="10.8" height="5.9" fill="#64a0d8" stroke="#24456a" stroke-width="0.7"/>
<text x="441.3" y="27.0" font-size="8.8" fill="#222" textLength="62.5" lengthAdjust="spacingAndGlyphs">Experiments (FTT)</text>
<rect x="429.3" y="31.7" width="10.8" height="5.9" fill="#7edea6" stroke="#358550" stroke-width="0.7"/>
<text x="441.3" y="36.9" font-size="8.8" fill="#222" textLength="62.5" lengthAdjust="spacingAndGlyphs">Experiments (STT)</text>
<rect x="290.2" y="209.6" width="241.2" height="13.4" fill="#fff" stroke="#777" stroke-width="0.8"/>
<line x1="291.5" y1="216" x2="312.3" y2="216" stroke="#111" stroke-width="0.9"/>
<circle cx="301.6" cy="216" r="2.3" fill="#111"/><circle cx="301" cy="215.3" r="0.85" fill="#d8d8d8"/>
<text x="315" y="219.7" font-size="9.5" fill="#222" textLength="94.6" lengthAdjust="spacingAndGlyphs">Shading area ratio (FTT)</text>
<line x1="411.8" y1="216.2" x2="433.6" y2="216.2" stroke="#8b1a1a" stroke-width="0.9"/>
<rect x="420.8" y="214.4" width="3.6" height="3.6" fill="#8b1a1a"/>
<text x="435.8" y="219.7" font-size="9.5" fill="#222" textLength="94.6" lengthAdjust="spacingAndGlyphs">Shading area ratio (STT)</text>
<text x="399" y="243.8" font-size="14.4" fill="#111">(<tspan font-weight="bold">b</tspan>)</text>
<rect x="41.8" y="281.07" width="5.4" height="140.53" fill="#fa4248" stroke="#b83030" stroke-width="0.3"/>
<rect x="47.2" y="274.74" width="5.4" height="146.86" fill="#639cd0" stroke="#4a6a90" stroke-width="0.4"/>
<rect x="58.26" y="295.83" width="5.4" height="125.77" fill="#fa4248" stroke="#b83030" stroke-width="0.3"/>
<rect x="63.66" y="275.79" width="5.4" height="145.81" fill="#639cd0" stroke="#4a6a90" stroke-width="0.4"/>
<rect x="74.72" y="304.27" width="5.4" height="117.33" fill="#fa4248" stroke="#b83030" stroke-width="0.3"/>
<rect x="80.12" y="278.96" width="5.4" height="142.64" fill="#639cd0" stroke="#4a6a90" stroke-width="0.4"/>
<rect x="91.18" y="314.81" width="5.4" height="106.79" fill="#fa4248" stroke="#b83030" stroke-width="0.3"/>
<rect x="96.58" y="281.33" width="5.4" height="140.27" fill="#639cd0" stroke="#4a6a90" stroke-width="0.4"/>
<rect x="107.64" y="338.55" width="5.4" height="83.06" fill="#fa4248" stroke="#b83030" stroke-width="0.3"/>
<rect x="113.04" y="289.5" width="5.4" height="132.1" fill="#639cd0" stroke="#4a6a90" stroke-width="0.4"/>
<rect x="124.1" y="351.99" width="5.4" height="69.61" fill="#fa4248" stroke="#b83030" stroke-width="0.3"/>
<rect x="129.5" y="292.4" width="5.4" height="129.2" fill="#639cd0" stroke="#4a6a90" stroke-width="0.4"/>
<rect x="140.56" y="362.54" width="5.4" height="59.06" fill="#fa4248" stroke="#b83030" stroke-width="0.3"/>
<rect x="145.96" y="296.89" width="5.4" height="124.71" fill="#639cd0" stroke="#4a6a90" stroke-width="0.4"/>
<rect x="157.02" y="375.99" width="5.4" height="45.61" fill="#fa4248" stroke="#b83030" stroke-width="0.3"/>
<rect x="162.42" y="302.69" width="5.4" height="118.91" fill="#639cd0" stroke="#4a6a90" stroke-width="0.4"/>
<rect x="173.48" y="386.53" width="5.4" height="35.07" fill="#fa4248" stroke="#b83030" stroke-width="0.3"/>
<rect x="178.88" y="307.17" width="5.4" height="114.43" fill="#639cd0" stroke="#4a6a90" stroke-width="0.4"/>
<rect x="189.94" y="399.19" width="5.4" height="22.41" fill="#fa4248" stroke="#b83030" stroke-width="0.3"/>
<rect x="195.34" y="317.45" width="5.4" height="104.15" fill="#639cd0" stroke="#4a6a90" stroke-width="0.4"/>
<rect x="206.4" y="411.05" width="5.4" height="10.55" fill="#fa4248" stroke="#b83030" stroke-width="0.3"/>
<rect x="211.8" y="324.83" width="5.4" height="96.77" fill="#639cd0" stroke="#4a6a90" stroke-width="0.4"/>
<line x1="31.2" y1="263.4" x2="31.2" y2="421.6" stroke="#6e6e6e" stroke-width="1.5"/>
<path d="M31.2 421.6 H228.5 V263.4" fill="none" stroke="#222" stroke-width="1.2"/>
<line x1="31.2" y1="421.6" x2="33.8" y2="421.6" stroke="#333" stroke-width="1"/>
<text x="28.1" y="424.2" text-anchor="end" font-size="7.8" fill="#222">40</text>
<line x1="31.2" y1="408.42" x2="33.8" y2="408.42" stroke="#333" stroke-width="1"/>
<text x="28.1" y="411.02" text-anchor="end" font-size="7.8" fill="#222">45</text>
<line x1="31.2" y1="395.23" x2="33.8" y2="395.23" stroke="#333" stroke-width="1"/>
<text x="28.1" y="397.83" text-anchor="end" font-size="7.8" fill="#222">50</text>
<line x1="31.2" y1="382.05" x2="33.8" y2="382.05" stroke="#333" stroke-width="1"/>
<text x="28.1" y="384.65" text-anchor="end" font-size="7.8" fill="#222">55</text>
<line x1="31.2" y1="368.87" x2="33.8" y2="368.87" stroke="#333" stroke-width="1"/>
<text x="28.1" y="371.47" text-anchor="end" font-size="7.8" fill="#222">60</text>
<line x1="31.2" y1="355.68" x2="33.8" y2="355.68" stroke="#333" stroke-width="1"/>
<text x="28.1" y="358.28" text-anchor="end" font-size="7.8" fill="#222">65</text>
<line x1="31.2" y1="342.5" x2="33.8" y2="342.5" stroke="#333" stroke-width="1"/>
<text x="28.1" y="345.1" text-anchor="end" font-size="7.8" fill="#222">70</text>
<line x1="31.2" y1="329.32" x2="33.8" y2="329.32" stroke="#333" stroke-width="1"/>
<text x="28.1" y="331.92" text-anchor="end" font-size="7.8" fill="#222">75</text>
<line x1="31.2" y1="316.13" x2="33.8" y2="316.13" stroke="#333" stroke-width="1"/>
<text x="28.1" y="318.73" text-anchor="end" font-size="7.8" fill="#222">80</text>
<line x1="31.2" y1="302.95" x2="33.8" y2="302.95" stroke="#333" stroke-width="1"/>
<text x="28.1" y="305.55" text-anchor="end" font-size="7.8" fill="#222">85</text>
<line x1="31.2" y1="289.77" x2="33.8" y2="289.77" stroke="#333" stroke-width="1"/>
<text x="28.1" y="292.37" text-anchor="end" font-size="7.8" fill="#222">90</text>
<line x1="31.2" y1="276.58" x2="33.8" y2="276.58" stroke="#333" stroke-width="1"/>
<text x="28.1" y="279.18" text-anchor="end" font-size="7.8" fill="#222">95</text>
<line x1="31.2" y1="263.4" x2="33.8" y2="263.4" stroke="#333" stroke-width="1"/>
<text x="28.1" y="266" text-anchor="end" font-size="7.8" fill="#222">100</text>
<line x1="228.5" y1="421.6" x2="225.7" y2="421.6" stroke="#222" stroke-width="1"/>
<line x1="228.5" y1="411.71" x2="227" y2="411.71" stroke="#222" stroke-width="0.8"/>
<text x="231.4" y="424.3" font-size="7.8" fill="#222">930</text>
<line x1="228.5" y1="401.83" x2="225.7" y2="401.83" stroke="#222" stroke-width="1"/>
<line x1="228.5" y1="391.94" x2="227" y2="391.94" stroke="#222" stroke-width="0.8"/>
<text x="231.4" y="404.53" font-size="7.8" fill="#222">935</text>
<line x1="228.5" y1="382.05" x2="225.7" y2="382.05" stroke="#222" stroke-width="1"/>
<line x1="228.5" y1="372.16" x2="227" y2="372.16" stroke="#222" stroke-width="0.8"/>
<text x="231.4" y="384.75" font-size="7.8" fill="#222">940</text>
<line x1="228.5" y1="362.27" x2="225.7" y2="362.27" stroke="#222" stroke-width="1"/>
<line x1="228.5" y1="352.39" x2="227" y2="352.39" stroke="#222" stroke-width="0.8"/>
<text x="231.4" y="364.97" font-size="7.8" fill="#222">945</text>
<line x1="228.5" y1="342.5" x2="225.7" y2="342.5" stroke="#222" stroke-width="1"/>
<line x1="228.5" y1="332.61" x2="227" y2="332.61" stroke="#222" stroke-width="0.8"/>
<text x="231.4" y="345.2" font-size="7.8" fill="#222">950</text>
<line x1="228.5" y1="322.73" x2="225.7" y2="322.73" stroke="#222" stroke-width="1"/>
<line x1="228.5" y1="312.84" x2="227" y2="312.84" stroke="#222" stroke-width="0.8"/>
<text x="231.4" y="325.43" font-size="7.8" fill="#222">955</text>
<line x1="228.5" y1="302.95" x2="225.7" y2="302.95" stroke="#222" stroke-width="1"/>
<line x1="228.5" y1="293.06" x2="227" y2="293.06" stroke="#222" stroke-width="0.8"/>
<text x="231.4" y="305.65" font-size="7.8" fill="#222">960</text>
<line x1="228.5" y1="283.17" x2="225.7" y2="283.17" stroke="#222" stroke-width="1"/>
<line x1="228.5" y1="273.29" x2="227" y2="273.29" stroke="#222" stroke-width="0.8"/>
<text x="231.4" y="285.87" font-size="7.8" fill="#222">965</text>
<line x1="228.5" y1="263.4" x2="225.7" y2="263.4" stroke="#222" stroke-width="1"/>
<text x="231.4" y="266.1" font-size="7.8" fill="#222">970</text>
<polyline points="47.2,382.6 63.66,366.2 80.12,354.2 96.58,337.4 113.04,322.1 129.5,309.1 145.96,298.2 162.42,290.2 178.88,279.3 195.34,274.1 211.8,270" fill="none" stroke="#3a8a30" stroke-width="0.9"/>
<rect x="45.5" y="380.9" width="3.4" height="3.4" fill="#2e7d2a"/>
<rect x="61.96" y="364.5" width="3.4" height="3.4" fill="#2e7d2a"/>
<rect x="78.42" y="352.5" width="3.4" height="3.4" fill="#2e7d2a"/>
<rect x="94.88" y="335.7" width="3.4" height="3.4" fill="#2e7d2a"/>
<rect x="111.34" y="320.4" width="3.4" height="3.4" fill="#2e7d2a"/>
<rect x="127.8" y="307.4" width="3.4" height="3.4" fill="#2e7d2a"/>
<rect x="144.26" y="296.5" width="3.4" height="3.4" fill="#2e7d2a"/>
<rect x="160.72" y="288.5" width="3.4" height="3.4" fill="#2e7d2a"/>
<rect x="177.18" y="277.6" width="3.4" height="3.4" fill="#2e7d2a"/>
<rect x="193.64" y="272.4" width="3.4" height="3.4" fill="#2e7d2a"/>
<rect x="210.1" y="268.3" width="3.4" height="3.4" fill="#2e7d2a"/>
<polyline points="47.2,420.5 63.66,407.4 80.12,400.1 96.58,386.5 113.04,377.3 129.5,364.9 145.96,357.6 162.42,352.4 178.88,343.9 195.34,338.9 211.8,333" fill="none" stroke="#111" stroke-width="0.9"/>
<circle cx="47.2" cy="420.5" r="2.3" fill="#111"/>
<circle cx="46.6" cy="419.8" r="0.85" fill="#d8d8d8"/>
<circle cx="63.66" cy="407.4" r="2.3" fill="#111"/>
<circle cx="63.06" cy="406.7" r="0.85" fill="#d8d8d8"/>
<circle cx="80.12" cy="400.1" r="2.3" fill="#111"/>
<circle cx="79.52" cy="399.4" r="0.85" fill="#d8d8d8"/>
<circle cx="96.58" cy="386.5" r="2.3" fill="#111"/>
<circle cx="95.98" cy="385.8" r="0.85" fill="#d8d8d8"/>
<circle cx="113.04" cy="377.3" r="2.3" fill="#111"/>
<circle cx="112.44" cy="376.6" r="0.85" fill="#d8d8d8"/>
<circle cx="129.5" cy="364.9" r="2.3" fill="#111"/>
<circle cx="128.9" cy="364.2" r="0.85" fill="#d8d8d8"/>
<circle cx="145.96" cy="357.6" r="2.3" fill="#111"/>
<circle cx="145.36" cy="356.9" r="0.85" fill="#d8d8d8"/>
<circle cx="162.42" cy="352.4" r="2.3" fill="#111"/>
<circle cx="161.82" cy="351.7" r="0.85" fill="#d8d8d8"/>
<circle cx="178.88" cy="343.9" r="2.3" fill="#111"/>
<circle cx="178.28" cy="343.2" r="0.85" fill="#d8d8d8"/>
<circle cx="195.34" cy="338.9" r="2.3" fill="#111"/>
<circle cx="194.74" cy="338.2" r="0.85" fill="#d8d8d8"/>
<circle cx="211.8" cy="333" r="2.3" fill="#111"/>
<circle cx="211.2" cy="332.3" r="0.85" fill="#d8d8d8"/>
<text transform="translate(52.3,428) rotate(-45)" text-anchor="end" font-size="7.4" fill="#1a1a1a">16:30</text>
<text transform="translate(68.76,428) rotate(-45)" text-anchor="end" font-size="7.4" fill="#1a1a1a">16:32</text>
<text transform="translate(85.22,428) rotate(-45)" text-anchor="end" font-size="7.4" fill="#1a1a1a">16:34</text>
<text transform="translate(101.68,428) rotate(-45)" text-anchor="end" font-size="7.4" fill="#1a1a1a">16:36</text>
<text transform="translate(118.14,428) rotate(-45)" text-anchor="end" font-size="7.4" fill="#1a1a1a">16:38</text>
<text transform="translate(134.6,428) rotate(-45)" text-anchor="end" font-size="7.4" fill="#1a1a1a">16:40</text>
<text transform="translate(151.06,428) rotate(-45)" text-anchor="end" font-size="7.4" fill="#1a1a1a">16:42</text>
<text transform="translate(167.52,428) rotate(-45)" text-anchor="end" font-size="7.4" fill="#1a1a1a">16:44</text>
<text transform="translate(183.98,428) rotate(-45)" text-anchor="end" font-size="7.4" fill="#1a1a1a">16:46</text>
<text transform="translate(200.44,428) rotate(-45)" text-anchor="end" font-size="7.4" fill="#1a1a1a">16:48</text>
<text transform="translate(216.9,428) rotate(-45)" text-anchor="end" font-size="7.4" fill="#1a1a1a">16:50</text>
<text x="222.9" y="431.8" font-size="8.3" fill="#222" textLength="16.6" lengthAdjust="spacingAndGlyphs">Time</text>
<text x="214" y="439.6" font-size="7.8" fill="#222" textLength="47" lengthAdjust="spacingAndGlyphs">(h, GMT+8:00)</text>
<text transform="translate(13,342.1) rotate(-90)" text-anchor="middle" font-size="8.85" fill="#222" textLength="90.7" lengthAdjust="spacingAndGlyphs">Array power output (kW)</text>
<text transform="translate(253,342.3) rotate(-90)" text-anchor="middle" font-size="8.9" fill="#222" textLength="126.7" lengthAdjust="spacingAndGlyphs">Daily electricity production (kW·h)</text>
<rect x="21.7" y="440.8" width="223.8" height="26.2" fill="#fff" stroke="#777" stroke-width="0.8"/>
<rect x="23.3" y="444.5" width="17.4" height="8.7" fill="#fa4248"/>
<rect x="23.3" y="456.8" width="17.4" height="8.9" fill="#639cd0"/>
<text x="43.6" y="451.7" font-size="8.3" fill="#222" textLength="64.8" lengthAdjust="spacingAndGlyphs">Array power (FTT)</text>
<text x="43.6" y="463.8" font-size="8.3" fill="#222" textLength="64.8" lengthAdjust="spacingAndGlyphs">Array power (STT)</text>
<line x1="109.5" y1="448.8" x2="128.5" y2="448.8" stroke="#111" stroke-width="0.9"/>
<circle cx="119.2" cy="448.8" r="2.3" fill="#111"/><circle cx="118.6" cy="448.1" r="0.85" fill="#d8d8d8"/>
<line x1="109.5" y1="461" x2="128.5" y2="461" stroke="#3a8a30" stroke-width="0.9"/>
<rect x="117.5" y="459.3" width="3.4" height="3.4" fill="#2e7d2a"/>
<text x="130.4" y="451.7" font-size="8.3" fill="#222" textLength="113.7" lengthAdjust="spacingAndGlyphs">Daily electricity production (FTT)</text>
<text x="130.4" y="463.8" font-size="8.3" fill="#222" textLength="113.7" lengthAdjust="spacingAndGlyphs">Daily electricity production (STT)</text>
<text x="126" y="493" font-size="14.4" fill="#111">(<tspan font-weight="bold">c</tspan>)</text>
<polyline points="306.3,388 307.25,394.58 308.2,383.2 309,391.21 309.8,378.4 310.43,383.09 311.07,387.62 311.7,392.8 312.4,415.2 313.3,384.8 313.8,394.92 314.3,407.2 315.1,420 315.65,400.3 316.2,378.4 316.85,387.46 317.5,377.6 318.05,385.32 318.6,396 319.13,391.21 319.67,387.59 320.2,381.6 321,422 321.65,402.14 322.3,384.8 323.1,394.06 323.9,371.2 324.7,383.53 325.5,374.4 326.3,385.08 327.1,369.6 327.65,383.76 328.2,397.6 328.75,382.75 329.3,367.2 329.95,370.6 330.6,365.6 331.23,378.09 331.87,392.97 332.5,407.2 333.03,409.94 333.57,411.32 334.1,413.6 334.63,405.74 335.17,395.5 335.7,388 336.23,389.96 336.75,393.49 337.27,371.58 337.8,352 338.6,371.04 339.4,357.6 339.93,364.02 340.47,371.67 341,376.8 341.7,381.17 342.4,385 343.1,416.8 343.8,381.62 344.5,344.8 345.45,400.74 346.4,348 347.2,360.8 347.73,365.45 348.27,340.48 348.8,337.6 349.4,356.48 350,368.8 350.6,359.71 351.2,331.2 351.85,406.81 352.5,333.6 353.03,387.03 353.57,359.31 354.1,439.9 354.75,421.56 355.4,395 356.1,359.81 356.8,321.2 357.6,363.86 358.4,330.8 359,352.01 359.6,356 360.2,352.18 360.8,333.6 361.33,363.05 361.87,350.17 362.4,395 363,416.93 363.6,434.6 364.17,412.49 364.73,340.21 365.3,326 365.8,364.38 366.3,401.6 366.9,370.96 367.5,319.6 368.15,362.1 368.8,372 369.33,356.21 369.87,327.91 370.4,324.4 371.15,376.61 371.9,367 372.47,342.14 373.03,290.47 373.6,281.8 374.4,366.89 375.2,301.8 375.8,324.83 376.4,335 377.03,379.62 377.67,360.01 378.3,418.8 378.93,386.55 379.55,274.1 380.18,314.55 380.8,273.8 381.6,330 382.4,297 382.93,336.91 383.47,297.29 384,345 384.53,332 385.07,296 385.6,291.4 386.5,322 387,349.21 387.5,289 388.05,330.75 388.6,335 389.1,330.34 389.6,285.8 390.3,363.07 391,395 391.6,358.21 392.2,289.32 392.8,277.8 393.3,307.86 393.8,320 394.35,330.84 394.9,278.6 395.6,373.43 396.3,397.7 396.95,332.14 397.6,264.2 398.2,330 398.7,331.85 399.2,281 400,320 400.6,332.81 401.2,289 401.73,308.33 402.27,292.13 402.8,324 403.43,354.72 404.07,284.82 404.7,277 405.3,308.81 405.9,295.11 406.5,352 407.13,367.53 407.77,286.95 408.4,284.2 409.1,334.85 409.8,285.17 410.5,350 411.03,375.66 411.57,360.4 412.1,396.3 412.7,277.8 413.27,326.54 413.85,291.2 414.43,331.27 415,345 415.6,344.75 416.2,294.55 416.8,331.71 417.4,279.4 418,276.2 418.67,316.27 419.33,294.54 420,330 420.6,333.77 421.2,283.4 421.7,302.64 422.2,320 422.75,339 423.3,279.4 423.9,319.78 424.5,327 425.25,327.1 426,284.2 426.75,320.81 427.5,335 428.07,339.3 428.63,293.87 429.2,291.4 429.8,306.78 430.4,298.24 431,324 431.7,311.19 432.4,288.2 433.1,343.36 433.8,288.67 434.5,342 435.07,395.18 435.63,369.73 436.2,445 436.73,403.76 437.27,314.74 437.8,297 438.35,332.83 438.9,349.25 439.45,349.62 440,285.4 440.53,322.71 441.07,288.99 441.6,330 442.13,358.08 442.67,286.27 443.2,283 443.73,323 444.27,301.34 444.8,345 445.33,341.48 445.87,296.52 446.4,290.2 446.93,317.41 447.47,306.17 448,345 448.53,340.02 449.07,300.99 449.6,300.6 450.1,388.13 450.6,418.4 451.33,382.26 452.07,318.83 452.8,299.8 453.47,360.54 454.13,310.76 454.8,352 455.47,333.87 456.13,298.77 456.8,298.2 457.4,331.7 458,345 458.6,342.41 459.2,309.4 459.9,423.7 460.47,398.06 461.03,328.8 461.6,310.2 462.13,358.93 462.67,315.61 463.2,423.7 463.85,378.02 464.5,301.4 465,322.98 465.5,330 466.4,313.4 467.02,341.4 467.65,328.27 468.27,404.72 468.9,418.4 469.53,396.87 470.17,372.92 470.8,350.4 471.3,365.81 471.8,380 472.37,361.59 472.93,341.25 473.5,324.4 474,343.36 474.5,362 475.05,344.01 475.6,330 476.3,349.65 477,370 477.5,351.02 478,330.4 478.95,346.79 479.9,335.2 480.6,367.14 481.3,396.78 482,427.6 482.53,398.8 483.07,371.05 483.6,344.8 484.3,388.89 485,432.8 485.6,380.62 486.2,330.4 486.9,355.59 487.6,380 488.13,364.09 488.67,351.51 489.2,336 489.87,360.9 490.53,386.01 491.2,413.2 491.8,376.43 492.4,341.6 492.9,363.17 493.4,385 494,373.08 494.6,360.8 495.13,373.53 495.67,385.95 496.2,400 496.87,385.55 497.53,372.54 498.2,356.8 498.9,384.46 499.6,411.9 500.13,396.19 500.67,376.42 501.2,360.8 501.77,382.81 502.33,403.03 502.9,422.4 503.65,390.93 504.4,359.2 504.95,372.17 505.5,385 506.05,373.41 506.6,361.6 507.4,378.55 508.2,370.4 508.73,375.36 509.27,376.56 509.8,381.6 510.4,385.23 511,388.13 511.6,390.6 512.2,394.4 512.75,381.47 513.3,367.2 513.82,373.32 514.35,378.11 514.88,375.47 515.4,375.2 515.93,381.13 516.47,385.73 517,391.2 517.53,386.64 518.07,382.54 518.6,377.6 519.4,384.31 520.2,380 520.73,383.99 521.27,390.98 521.8,396 522.3,416.62 522.8,438 523.53,420.87 524.27,400.66 525,383.2 525.65,386.57 526.3,388 526.85,386.29 527.4,383.2 528.2,390.73 529,386.4 529.53,389.44 530.07,392.86 530.6,394.4 531.13,389.81 531.67,388.29 532.2,384.8 532.73,388.87 533.27,392.8 533.8,396 534.45,386.92 535.1,378.4 536.05,392.51 537,383.2 537.55,397.64 538.1,390.4" fill="none" stroke="#4a9be0" stroke-width="0.6" stroke-linejoin="round"/>
<polyline points="306.3,388 307.25,394.58 308.2,383.2 309,391.21 309.8,378.4 310.43,383.09 311.07,387.62 311.7,392.8 312.4,415.2 313.3,384.8 313.8,394.92 314.3,407.2 315.1,420 315.65,400.3 316.2,378.4 316.85,387.46 317.5,377.6 318.05,385.32 318.6,396 319.13,391.21 319.67,387.59 320.2,381.6 321,422 321.65,402.14 322.3,384.8 323.1,394.06 323.9,371.2 324.7,383.53 325.5,374.4 326.3,385.08 327.1,369.6 327.65,383.76 328.2,397.6 328.75,382.75 329.3,367.2 329.95,370.6 330.6,365.6 331.23,378.09 331.87,392.97 332.5,407.2 333.03,409.94 333.57,411.32 334.1,413.6 334.63,405.74 335.17,395.5 335.7,388 336.23,389.96 336.75,393.49 337.27,371.58 337.8,352 338.6,371.04 339.4,357.6 339.93,364.02 340.47,371.67 341,376.8 341.7,381.17 342.4,385 343.1,416.8 343.8,381.62 344.5,344.8 345.45,400.74 346.4,348 347.2,360.8 347.73,365.45 348.27,340.48 348.8,337.6 349.4,356.48 350,368.8 350.6,359.71 351.2,331.2 351.85,406.81 352.5,333.6 353.03,387.03 353.57,359.31 354.1,439.9 354.75,421.56 355.4,395 356.1,359.81 356.8,319.2 357.6,363.86 358.4,328.8 359,352.01 359.6,356 360.2,352.18 360.8,333.6 361.33,363.05 361.87,350.17 362.4,395 363,416.93 363.6,434.6 364.17,412.49 364.73,340.21 365.3,324 365.8,364.38 366.3,401.6 366.9,370.96 367.5,317.6 368.15,362.1 368.8,372 369.33,356.21 369.87,325.91 370.4,322.4 371.15,376.61 371.9,367 372.47,342.14 373.03,288.47 373.6,279.8 374.4,366.89 375.2,299.8 375.8,322.83 376.4,335 377.03,379.62 377.67,360.01 378.3,418.8 378.93,386.55 379.55,272.1 380.18,312.55 380.8,271.8 381.6,330 382.4,295 382.93,336.91 383.47,295.29 384,345 384.53,330 385.07,294 385.6,289.4 386.5,320 387,349.21 387.5,287 388.05,330.75 388.6,335 389.1,328.34 389.6,283.8 390.3,363.07 391,395 391.6,358.21 392.2,287.32 392.8,275.8 393.3,305.86 393.8,318 394.35,328.84 394.9,276.6 395.6,373.43 396.3,397.7 396.95,332.14 397.6,262.2 398.2,330 398.7,331.85 399.2,279 400,318 400.6,332.81 401.2,287 401.73,306.33 402.27,290.13 402.8,322 403.43,354.72 404.07,282.82 404.7,275 405.3,306.81 405.9,293.11 406.5,352 407.13,367.53 407.77,284.95 408.4,282.2 409.1,334.85 409.8,283.17 410.5,350 411.03,375.66 411.57,360.4 412.1,396.3 412.7,275.8 413.27,324.54 413.85,289.2 414.43,331.27 415,345 415.6,344.75 416.2,292.55 416.8,331.71 417.4,277.4 418,274.2 418.67,314.27 419.33,292.54 420,330 420.6,333.77 421.2,281.4 421.7,300.64 422.2,318 422.75,339 423.3,277.4 423.9,317.78 424.5,325 425.25,325.1 426,282.2 426.75,318.81 427.5,335 428.07,339.3 428.63,291.87 429.2,289.4 429.8,304.78 430.4,296.24 431,322 431.7,309.19 432.4,286.2 433.1,343.36 433.8,286.67 434.5,342 435.07,395.18 435.63,369.73 436.2,445 436.73,403.76 437.27,312.74 437.8,295 438.35,332.83 438.9,349.25 439.45,349.62 440,283.4 440.53,320.71 441.07,286.99 441.6,330 442.13,358.08 442.67,284.27 443.2,281 443.73,321 444.27,299.34 444.8,345 445.33,341.48 445.87,294.52 446.4,288.2 446.93,315.41 447.47,304.17 448,345 448.53,340.02 449.07,298.99 449.6,298.6 450.1,388.13 450.6,418.4 451.33,382.26 452.07,316.83 452.8,297.8 453.47,360.54 454.13,308.76 454.8,352 455.47,333.87 456.13,296.77 456.8,296.2 457.4,329.7 458,345 458.6,342.41 459.2,307.4 459.9,423.7 460.47,398.06 461.03,326.8 461.6,308.2 462.13,358.93 462.67,313.61 463.2,423.7 463.85,378.02 464.5,299.4 465,320.98 465.5,330 466.4,311.4 467.02,341.4 467.65,326.27 468.27,404.72 468.9,418.4 469.53,396.87 470.17,372.92 470.8,350.4 471.3,365.81 471.8,380 472.37,361.59 472.93,341.25 473.5,322.4 474,343.36 474.5,362 475.05,344.01 475.6,328 476.3,349.65 477,370 477.5,351.02 478,330.4 478.95,346.79 479.9,335.2 480.6,367.14 481.3,396.78 482,427.6 482.53,398.8 483.07,371.05 483.6,344.8 484.3,388.89 485,432.8 485.6,380.62 486.2,330.4 486.9,355.59 487.6,380 488.13,364.09 488.67,351.51 489.2,336 489.87,360.9 490.53,386.01 491.2,413.2 491.8,376.43 492.4,341.6 492.9,363.17 493.4,385 494,373.08 494.6,360.8 495.13,373.53 495.67,385.95 496.2,400 496.87,385.55 497.53,372.54 498.2,356.8 498.9,384.46 499.6,411.9 500.13,396.19 500.67,376.42 501.2,360.8 501.77,382.81 502.33,403.03 502.9,422.4 503.65,390.93 504.4,359.2 504.95,372.17 505.5,385 506.05,373.41 506.6,361.6 507.4,378.55 508.2,370.4 508.73,375.36 509.27,376.56 509.8,381.6 510.4,385.23 511,388.13 511.6,390.6 512.2,394.4 512.75,381.47 513.3,367.2 513.82,373.32 514.35,378.11 514.88,375.47 515.4,375.2 515.93,381.13 516.47,385.73 517,391.2 517.53,386.64 518.07,382.54 518.6,377.6 519.4,384.31 520.2,380 520.73,383.99 521.27,390.98 521.8,396 522.3,416.62 522.8,438 523.53,420.87 524.27,400.66 525,383.2 525.65,386.57 526.3,388 526.85,386.29 527.4,383.2 528.2,390.73 529,386.4 529.53,389.44 530.07,392.86 530.6,394.4 531.13,389.81 531.67,388.29 532.2,384.8 532.73,388.87 533.27,392.8 533.8,396 534.45,386.92 535.1,378.4 536.05,392.51 537,383.2 537.55,397.64 538.1,390.4" fill="none" stroke="#f0141e" stroke-width="1.0" stroke-linejoin="round"/>
<line x1="306.2" y1="258.1" x2="306.2" y2="445.3" stroke="#5a5a5a" stroke-width="1.7"/>
<line x1="305.4" y1="445.3" x2="540" y2="445.3" stroke="#222" stroke-width="1.3"/>
<path d="M539 443 L544.5 445.3 L539 447.6 Z" fill="#111"/>
<line x1="306.2" y1="445.3" x2="309.2" y2="445.3" stroke="#222" stroke-width="1"/>
<line x1="306.2" y1="434.9" x2="307.8" y2="434.9" stroke="#222" stroke-width="0.8"/>
<text x="302.4" y="448.4" text-anchor="end" font-size="9.2" fill="#222">0</text>
<line x1="306.2" y1="424.5" x2="309.2" y2="424.5" stroke="#222" stroke-width="1"/>
<line x1="306.2" y1="414.1" x2="307.8" y2="414.1" stroke="#222" stroke-width="0.8"/>
<text x="302.4" y="427.6" text-anchor="end" font-size="9.2" fill="#222">200</text>
<line x1="306.2" y1="403.7" x2="309.2" y2="403.7" stroke="#222" stroke-width="1"/>
<line x1="306.2" y1="393.3" x2="307.8" y2="393.3" stroke="#222" stroke-width="0.8"/>
<text x="302.4" y="406.8" text-anchor="end" font-size="9.2" fill="#222">400</text>
<line x1="306.2" y1="382.9" x2="309.2" y2="382.9" stroke="#222" stroke-width="1"/>
<line x1="306.2" y1="372.5" x2="307.8" y2="372.5" stroke="#222" stroke-width="0.8"/>
<text x="302.4" y="386" text-anchor="end" font-size="9.2" fill="#222">600</text>
<line x1="306.2" y1="362.1" x2="309.2" y2="362.1" stroke="#222" stroke-width="1"/>
<line x1="306.2" y1="351.7" x2="307.8" y2="351.7" stroke="#222" stroke-width="0.8"/>
<text x="302.4" y="365.2" text-anchor="end" font-size="9.2" fill="#222">800</text>
<line x1="306.2" y1="341.3" x2="309.2" y2="341.3" stroke="#222" stroke-width="1"/>
<line x1="306.2" y1="330.9" x2="307.8" y2="330.9" stroke="#222" stroke-width="0.8"/>
<text x="302.4" y="344.4" text-anchor="end" font-size="9.2" fill="#222">1000</text>
<line x1="306.2" y1="320.5" x2="309.2" y2="320.5" stroke="#222" stroke-width="1"/>
<line x1="306.2" y1="310.1" x2="307.8" y2="310.1" stroke="#222" stroke-width="0.8"/>
<text x="302.4" y="323.6" text-anchor="end" font-size="9.2" fill="#222">1200</text>
<line x1="306.2" y1="299.7" x2="309.2" y2="299.7" stroke="#222" stroke-width="1"/>
<line x1="306.2" y1="289.3" x2="307.8" y2="289.3" stroke="#222" stroke-width="0.8"/>
<text x="302.4" y="302.8" text-anchor="end" font-size="9.2" fill="#222">1400</text>
<line x1="306.2" y1="278.9" x2="309.2" y2="278.9" stroke="#222" stroke-width="1"/>
<line x1="306.2" y1="268.5" x2="307.8" y2="268.5" stroke="#222" stroke-width="0.8"/>
<text x="302.4" y="282" text-anchor="end" font-size="9.2" fill="#222">1600</text>
<line x1="306.2" y1="258.1" x2="309.2" y2="258.1" stroke="#222" stroke-width="1"/>
<text x="302.4" y="261.2" text-anchor="end" font-size="9.2" fill="#222">1800</text>
<line x1="315.74" y1="445.3" x2="315.74" y2="443.7" stroke="#222" stroke-width="0.8"/>
<text x="306.2" y="457" text-anchor="middle" font-size="8.7" fill="#222">0</text>
<line x1="325.28" y1="445.3" x2="325.28" y2="442.3" stroke="#222" stroke-width="1"/>
<line x1="334.82" y1="445.3" x2="334.82" y2="443.7" stroke="#222" stroke-width="0.8"/>
<text x="325.28" y="457" text-anchor="middle" font-size="8.7" fill="#222">30</text>
<line x1="344.36" y1="445.3" x2="344.36" y2="442.3" stroke="#222" stroke-width="1"/>
<line x1="353.9" y1="445.3" x2="353.9" y2="443.7" stroke="#222" stroke-width="0.8"/>
<text x="344.36" y="457" text-anchor="middle" font-size="8.7" fill="#222">60</text>
<line x1="363.44" y1="445.3" x2="363.44" y2="442.3" stroke="#222" stroke-width="1"/>
<line x1="372.98" y1="445.3" x2="372.98" y2="443.7" stroke="#222" stroke-width="0.8"/>
<text x="363.44" y="457" text-anchor="middle" font-size="8.7" fill="#222">90</text>
<line x1="382.52" y1="445.3" x2="382.52" y2="442.3" stroke="#222" stroke-width="1"/>
<line x1="392.06" y1="445.3" x2="392.06" y2="443.7" stroke="#222" stroke-width="0.8"/>
<text x="382.52" y="457" text-anchor="middle" font-size="8.7" fill="#222">120</text>
<line x1="401.6" y1="445.3" x2="401.6" y2="442.3" stroke="#222" stroke-width="1"/>
<line x1="411.14" y1="445.3" x2="411.14" y2="443.7" stroke="#222" stroke-width="0.8"/>
<text x="401.6" y="457" text-anchor="middle" font-size="8.7" fill="#222">150</text>
<line x1="420.68" y1="445.3" x2="420.68" y2="442.3" stroke="#222" stroke-width="1"/>
<line x1="430.22" y1="445.3" x2="430.22" y2="443.7" stroke="#222" stroke-width="0.8"/>
<text x="420.68" y="457" text-anchor="middle" font-size="8.7" fill="#222">180</text>
<line x1="439.76" y1="445.3" x2="439.76" y2="442.3" stroke="#222" stroke-width="1"/>
<line x1="449.3" y1="445.3" x2="449.3" y2="443.7" stroke="#222" stroke-width="0.8"/>
<text x="439.76" y="457" text-anchor="middle" font-size="8.7" fill="#222">210</text>
<line x1="458.84" y1="445.3" x2="458.84" y2="442.3" stroke="#222" stroke-width="1"/>
<line x1="468.38" y1="445.3" x2="468.38" y2="443.7" stroke="#222" stroke-width="0.8"/>
<text x="458.84" y="457" text-anchor="middle" font-size="8.7" fill="#222">240</text>
<line x1="477.92" y1="445.3" x2="477.92" y2="442.3" stroke="#222" stroke-width="1"/>
<line x1="487.46" y1="445.3" x2="487.46" y2="443.7" stroke="#222" stroke-width="0.8"/>
<text x="477.92" y="457" text-anchor="middle" font-size="8.7" fill="#222">270</text>
<line x1="497" y1="445.3" x2="497" y2="442.3" stroke="#222" stroke-width="1"/>
<line x1="506.54" y1="445.3" x2="506.54" y2="443.7" stroke="#222" stroke-width="0.8"/>
<text x="497" y="457" text-anchor="middle" font-size="8.7" fill="#222">300</text>
<line x1="516.08" y1="445.3" x2="516.08" y2="442.3" stroke="#222" stroke-width="1"/>
<line x1="525.62" y1="445.3" x2="525.62" y2="443.7" stroke="#222" stroke-width="0.8"/>
<text x="516.08" y="457" text-anchor="middle" font-size="8.7" fill="#222">330</text>
<line x1="535.16" y1="445.3" x2="535.16" y2="442.3" stroke="#222" stroke-width="1"/>
<text x="535.16" y="457" text-anchor="middle" font-size="8.7" fill="#222">360</text>
<text x="396.6" y="470" font-size="10.3" fill="#222" textLength="51.2" lengthAdjust="spacingAndGlyphs">Day number</text>
<text transform="translate(280,352.4) rotate(-90)" text-anchor="middle" font-size="9.55" fill="#222" textLength="136" lengthAdjust="spacingAndGlyphs">Daily electricity production (kW·h)</text>
<rect x="488.2" y="259.9" width="48.5" height="29.8" fill="#fff" stroke="#666" stroke-width="0.9"/>
<line x1="489.3" y1="267.3" x2="512.5" y2="267.3" stroke="#4a9be0" stroke-width="1"/>
<line x1="489.3" y1="281.2" x2="512.5" y2="281.2" stroke="#f04040" stroke-width="1"/>
<text x="515.4" y="271.4" font-size="10.6" fill="#222" textLength="19.1" lengthAdjust="spacingAndGlyphs">FTT</text>
<text x="515.4" y="285.2" font-size="10.6" fill="#222" textLength="19.1" lengthAdjust="spacingAndGlyphs">STT</text>
<text x="398.2" y="493" font-size="14.4" fill="#111">(<tspan font-weight="bold">d</tspan>)</text>
</svg>
</body></html>
